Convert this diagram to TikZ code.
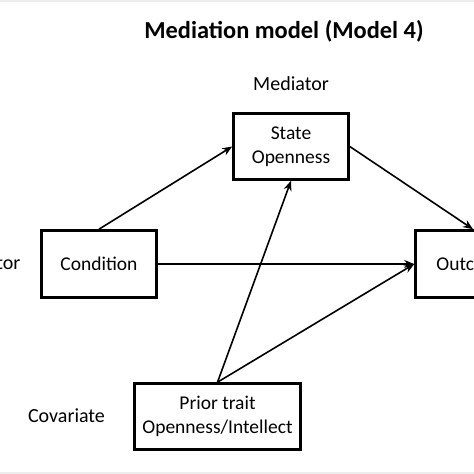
\documentclass[tikz,border=0pt]{standalone}
\usepackage{fontspec}
\setmainfont{Carlito}
\usetikzlibrary{arrows.meta}
\begin{document}
\begin{tikzpicture}[x=1pt,y=-1pt,
  box/.style={draw=black,line width=2.6pt,fill=white,inner sep=0pt,align=center,
    font=\fontsize{19.5}{24}\selectfont},
  lbl/.style={inner sep=0pt,font=\fontsize{20}{24}\selectfont},
  arr/.style={line width=1.6pt,-{Stealth[length=10pt,width=8pt]}}]
\clip (0,0) rectangle (474,474);
\fill[white] (0,0) rectangle (474,474);
\fill[black!7] (0,0) rectangle (474,1.5);
\fill[black!7] (0,472) rectangle (474,474);
\node[inner sep=0pt,font=\fontsize{24.4}{28}\selectfont\bfseries] (title) at (284,31) {Mediation model (Model 4)};
\node[lbl] (medlbl) at (291,83.5) {Mediator};
\node[lbl,anchor=east] (predlbl) at (20.5,263) {Predictor};
\node[lbl] (covlbl) at (66.5,416) {Covariate};
\node[box,minimum width=115pt,minimum height=66pt] (state) at (291,146.5) {State\\Openness};
\node[box,minimum width=115pt,minimum height=67pt] (cond) at (99,264) {Condition};
\node[box,minimum width=115pt,minimum height=67pt] (outc) at (473,264) {Outcome};
\node[box,minimum width=166pt,minimum height=66pt] (prior) at (217.5,416.5) {Prior trait\\Openness/Intellect};
\draw[arr] (cond.north) -- (state.west);
\draw[arr] (state.east) -- (outc.north);
\draw[arr] (cond.east) -- (outc.west);
\draw[arr] (prior.north) -- (state.south);
\draw[arr] (prior.north) -- (outc.west);
\end{tikzpicture}
\end{document}
